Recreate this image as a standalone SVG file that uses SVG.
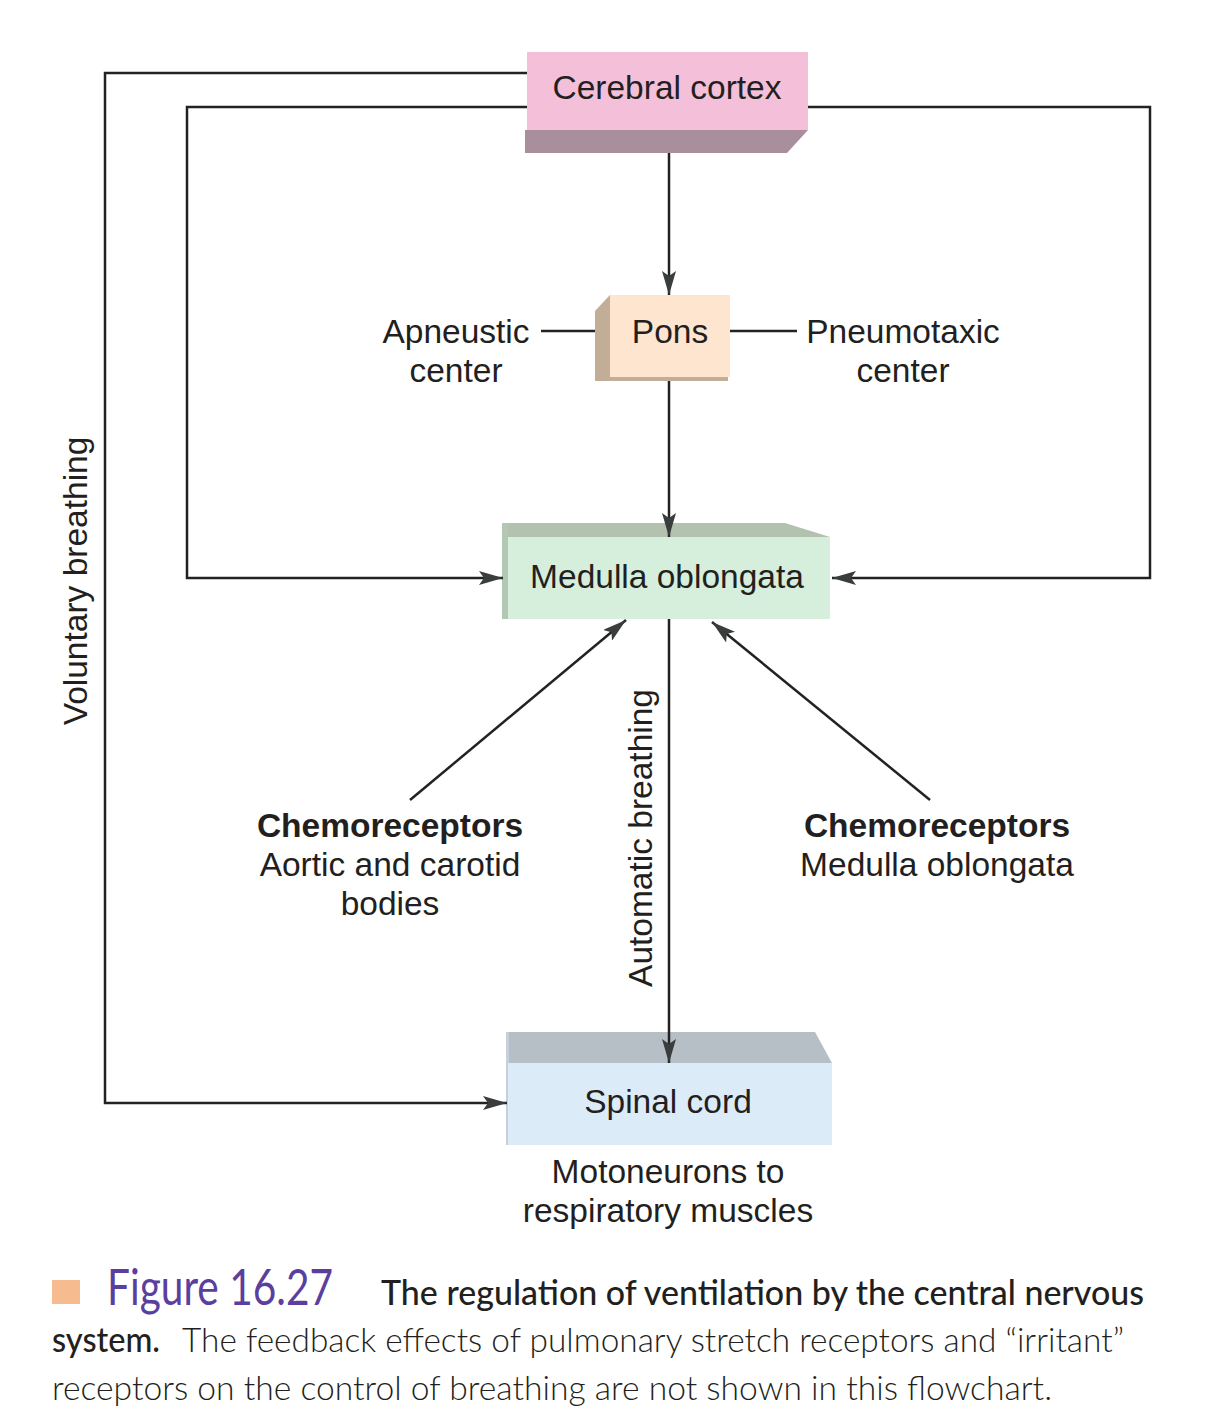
<svg xmlns="http://www.w3.org/2000/svg" width="1216" height="1425" viewBox="0 0 1216 1425">
<defs>
<style>
.t{font-family:"Liberation Sans",Arial,sans-serif;font-size:33.5px;fill:#231f20;text-anchor:middle}
.b{font-weight:bold}
.ln{fill:none;stroke:#222;stroke-width:2.5}
.cap{font-family:Lato,"Open Sans",sans-serif;fill:#231f20}
</style>
<marker id="ah" markerUnits="userSpaceOnUse" markerWidth="26" markerHeight="14" refX="24" refY="7" orient="auto">
<path d="M0,0 L24,7 L0,14 L5,7 z" fill="#3a3d3d"/>
</marker>
</defs>
<rect width="1216" height="1425" fill="#fff"/>

<g id="cerebral-cortex">
<polygon points="525,130 808,130 787,153 525,153" fill="#a98e9b"/>
<rect x="527" y="52" width="281" height="78" fill="#f4bfd9"/>
<text class="t" x="667" y="99">Cerebral cortex</text>
</g>

<g id="pons">
<polygon points="595,311 610,295 610,377 595,381" fill="#c2ad97"/>
<polygon points="595,377 728,377 728,381 595,381" fill="#c2ad97"/>
<rect x="610" y="295" width="120" height="82" fill="#fde5cf"/>
<text class="t" x="670" y="343">Pons</text>
</g>
<text class="t" x="456" y="343">Apneustic</text>
<text class="t" x="456" y="382">center</text>
<text class="t" x="903" y="343">Pneumotaxic</text>
<text class="t" x="903" y="382">center</text>

<g id="medulla-oblongata">
<polygon points="502,523 785,523 830,537 502,537" fill="#b2c2ae"/>
<rect x="502" y="523" width="6" height="96" fill="#b3c8b3"/>
<rect x="508" y="537" width="322" height="82" fill="#d6efdc"/>
<text class="t" x="667" y="588">Medulla oblongata</text>
</g>

<g id="chemo-aortic">
<text class="t b" x="390" y="837">Chemoreceptors</text>
<text class="t" x="390" y="876">Aortic and carotid</text>
<text class="t" x="390" y="915">bodies</text>
</g>
<g id="chemo-medulla">
<text class="t b" x="937" y="837">Chemoreceptors</text>
<text class="t" x="937" y="876">Medulla oblongata</text>
</g>

<text class="t" transform="translate(87,581) rotate(-90)">Voluntary breathing</text>
<text class="t" transform="translate(652,838) rotate(-90)">Automatic breathing</text>

<g id="spinal-cord">
<polygon points="506,1032 815,1032 832,1063 506,1063" fill="#b7bfc6"/>
<rect x="506" y="1032" width="3" height="113" fill="#c5d0da"/>
<rect x="508" y="1063" width="324" height="82" fill="#dcebf8"/>
<text class="t" x="668" y="1113">Spinal cord</text>
</g>
<text class="t" x="668" y="1183">Motoneurons to</text>
<text class="t" x="668" y="1222">respiratory muscles</text>

<g id="connectors">
<polyline class="ln" points="527,73 105,73 105,1103 507,1103" marker-end="url(#ah)"/>
<polyline class="ln" points="527,107 187,107 187,578 503,578" marker-end="url(#ah)"/>
<polyline class="ln" points="808,107 1150,107 1150,578 832,578" marker-end="url(#ah)"/>
<line class="ln" x1="669" y1="153" x2="669" y2="295" marker-end="url(#ah)"/>
<line class="ln" x1="669" y1="381" x2="669" y2="537" marker-end="url(#ah)"/>
<line class="ln" x1="669" y1="619" x2="669" y2="1063" marker-end="url(#ah)"/>
<line class="ln" x1="410" y1="800" x2="626" y2="620" marker-end="url(#ah)"/>
<line class="ln" x1="930" y1="800" x2="712" y2="622" marker-end="url(#ah)"/>
<line class="ln" x1="541" y1="331" x2="595" y2="331"/>
<line class="ln" x1="730" y1="331" x2="797" y2="331"/>
</g>

<g id="caption">
<rect x="52" y="1280" width="28" height="24" fill="#f6bb8e"/>
<text class="cap" x="107" y="1305" font-size="50" style="fill:#5b3f9f" textLength="226" lengthAdjust="spacingAndGlyphs">Figure 16.27</text>
<text class="cap" x="381" y="1305" font-size="34" font-weight="500" textLength="763" lengthAdjust="spacingAndGlyphs">The regulation of ventilation by the central nervous</text>
<text class="cap" x="52" y="1352" font-size="34" font-weight="500" textLength="108" lengthAdjust="spacingAndGlyphs">system.</text>
<text class="cap" x="182" y="1352" font-size="34" font-weight="300" textLength="942" lengthAdjust="spacingAndGlyphs">The feedback effects of pulmonary stretch receptors and “irritant”</text>
<text class="cap" x="52" y="1400" font-size="34" font-weight="300" textLength="1000" lengthAdjust="spacingAndGlyphs">receptors on the control of breathing are not shown in this flowchart.</text>
</g>
</svg>
